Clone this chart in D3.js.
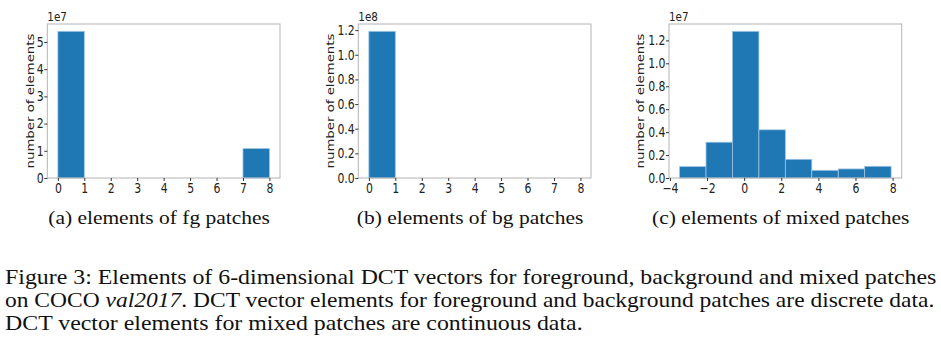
<!DOCTYPE html>
<html>
<head>
<meta charset="utf-8">
<script src="https://cdn.jsdelivr.net/npm/d3@7"></script>
<style>
  html, body { margin: 0; padding: 0; background: #fff; }
  svg { display: block; }
</style>
</head>
<body>
<svg id="fig" width="941" height="349"></svg>
<script>
// Histogram bin edges and counts for each patch type
const fgEdges = [0, 1, 2, 3, 4, 5, 6, 7, 8];
const fgCounts = [5.39e7, 0, 0, 0, 0, 0, 0, 1.08e7];

const bgEdges = [0, 1, 2, 3, 4, 5, 6, 7, 8];
const bgCounts = [1.19e8, 0, 0, 0, 0, 0, 0, 0];

const mixedEdges = [-3.48, -2.055, -0.63, 0.795, 2.22, 3.645, 5.07, 6.495, 7.92];
const mixedCounts = [0.099e7, 0.312e7, 1.279e7, 0.42e7, 0.163e7, 0.067e7, 0.079e7, 0.102e7];

// Tick values and labels
const fgXTicks = [0, 1, 2, 3, 4, 5, 6, 7, 8];
const fgYTicks = [0, 1e7, 2e7, 3e7, 4e7, 5e7];
const fgYLabels = ["0", "1", "2", "3", "4", "5"];

const bgXTicks = [0, 1, 2, 3, 4, 5, 6, 7, 8];
const bgYTicks = [0, 0.2e8, 0.4e8, 0.6e8, 0.8e8, 1.0e8, 1.2e8];
const bgYLabels = ["0.0", "0.2", "0.4", "0.6", "0.8", "1.0", "1.2"];

const mixedXTicks = [-4, -2, 0, 2, 4, 6, 8];
const mixedXLabels = ["\u22124", "\u22122", "0", "2", "4", "6", "8"];
const mixedYTicks = [0, 0.2e7, 0.4e7, 0.6e7, 0.8e7, 1.0e7, 1.2e7];
const mixedYLabels = ["0.0", "0.2", "0.4", "0.6", "0.8", "1.0", "1.2"];

const subCaptions = ["(a) elements of fg patches", "(b) elements of bg patches", "(c) elements of mixed patches"];
const yAxisTitle = "number of elements";

// Figure caption lines; segments flagged true are set in italics
const captionLines = [
  [["Figure 3: Elements of 6-dimensional DCT vectors for foreground, background and mixed patches", false]],
  [["on COCO ", false], ["val2017", true], [". DCT vector elements for foreground and background patches are discrete data.", false]],
  [["DCT vector elements for mixed patches are continuous data.", false]]
];

const svg = d3.select("#fig");
const barColor = "#1f77b4";
const sansFont = "'DejaVu Sans', sans-serif";
const serifFont = "'Liberation Serif', 'Times New Roman', serif";
const plotSx = 0.8;   // horizontal squeeze of the plot lettering
const tickFont = 13.6;

const panels = [
  { left: 47.3, edges: fgEdges, counts: fgCounts, xTicks: fgXTicks, xLabels: fgXTicks.map(String),
    yTicks: fgYTicks, yLabels: fgYLabels, offset: "1e7", caption: subCaptions[0], titleGap: 17.3 },
  { left: 358.3, edges: bgEdges, counts: bgCounts, xTicks: bgXTicks, xLabels: bgXTicks.map(String),
    yTicks: bgYTicks, yLabels: bgYLabels, offset: "1e8", caption: subCaptions[1], titleGap: 28.3 },
  { left: 669, edges: mixedEdges, counts: mixedCounts, xTicks: mixedXTicks, xLabels: mixedXLabels,
    yTicks: mixedYTicks, yLabels: mixedYLabels, offset: "1e7", caption: subCaptions[2], titleGap: 28.3 }
];

const boxW = 232.7, boxTop = 24, boxBottom = 178;

// Figure caption: the first two lines are justified to the text block width,
// the last line keeps the natural stretch of the first line.
const lineWidths = [932, 930, null];
let capSx = 1;
captionLines.forEach((segs, i) => {
  const lg = svg.append("g");
  const t = lg.append("text")
    .attr("x", 0).attr("y", 284 + i * 23)
    .attr("font-family", serifFont).attr("font-size", 20).attr("fill", "#111");
  segs.forEach(([s, it]) => {
    const ts = t.append("tspan").text(s);
    if (it) ts.attr("font-style", "italic");
  });
  const w = t.node().getComputedTextLength();
  const sx = lineWidths[i] ? lineWidths[i] / w : capSx;
  if (i === 0) capSx = sx;
  lg.attr("transform", `translate(5,0) scale(${sx},1)`);
});

panels.forEach(p => {
  const lo = p.edges[0], hi = p.edges[p.edges.length - 1];
  const pad = (hi - lo) * 0.05;
  const x = d3.scaleLinear().domain([lo - pad, hi + pad]).range([p.left, p.left + boxW]);
  const yMax = d3.max(p.counts) * 1.05;
  const y = d3.scaleLinear().domain([0, yMax]).range([boxBottom, boxTop]);

  const g = svg.append("g");

  const bins = p.counts.map((c, i) => ({ x0: p.edges[i], x1: p.edges[i + 1], c }));
  g.selectAll("rect.bar").data(bins.filter(b => b.c > 0)).join("rect")
    .attr("class", "bar")
    .attr("x", d => x(d.x0))
    .attr("y", d => y(d.c))
    .attr("width", d => x(d.x1) - x(d.x0))
    .attr("height", d => y(0) - y(d.c))
    .attr("fill", barColor)
    .attr("stroke", "#9cc3e4")
    .attr("stroke-width", 0.8);

  // axes frame
  g.append("rect")
    .attr("x", p.left).attr("y", boxTop)
    .attr("width", boxW).attr("height", boxBottom - boxTop)
    .attr("fill", "none").attr("stroke", "#b3b3b3").attr("stroke-width", 1);

  const xAxis = d3.axisBottom(x).tickValues(p.xTicks)
    .tickFormat((d, i) => p.xLabels[i]).tickSize(3).tickPadding(2);
  const xg = g.append("g").attr("transform", `translate(0,${boxBottom})`).call(xAxis);
  xg.select(".domain").remove();
  xg.selectAll("line").attr("stroke", "#333");
  xg.selectAll("text").attr("font-family", sansFont).attr("font-size", tickFont).attr("fill", "#222")
    .attr("transform", `scale(${plotSx},1)`);

  const yAxis = d3.axisLeft(y).tickValues(p.yTicks)
    .tickFormat((d, i) => p.yLabels[i]).tickSize(3).tickPadding(1.5);
  const yg = g.append("g").attr("transform", `translate(${p.left},0)`).call(yAxis);
  yg.select(".domain").remove();
  yg.selectAll("line").attr("stroke", "#333");
  yg.selectAll("text").attr("font-family", sansFont).attr("font-size", tickFont).attr("fill", "#222")
    .attr("transform", `scale(${plotSx},1)`);

  g.append("text")
    .attr("transform", `translate(${p.left},21) scale(${plotSx},1)`)
    .attr("font-family", sansFont).attr("font-size", 13).attr("fill", "#222")
    .text(p.offset);

  g.append("text")
    .attr("transform", `translate(${p.left - p.titleGap},${(boxTop + boxBottom) / 2}) scale(${plotSx},1) rotate(-90)`)
    .attr("text-anchor", "middle").attr("dy", "0.35em")
    .attr("font-family", sansFont).attr("font-size", 13.3).attr("fill", "#222")
    .text(yAxisTitle);

  g.append("text")
    .attr("transform", `translate(${p.left + boxW / 2 - 4.6},224) scale(${capSx},1)`)
    .attr("text-anchor", "middle")
    .attr("font-family", serifFont).attr("font-size", 18).attr("fill", "#111")
    .text(p.caption);
});
</script>
</body>
</html>
